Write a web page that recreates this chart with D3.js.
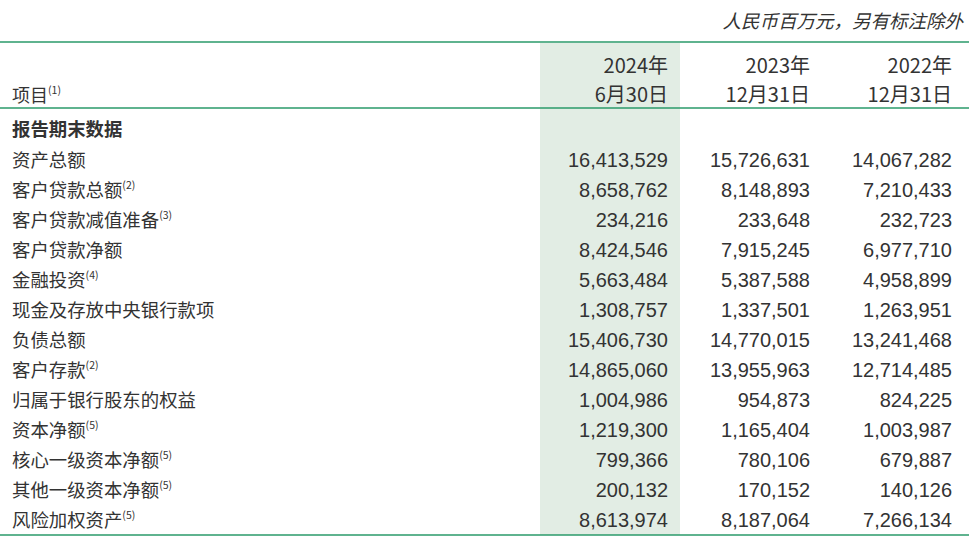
<!DOCTYPE html>
<html><head><meta charset="utf-8">
<script src="https://cdn.jsdelivr.net/npm/d3@7"></script>
<style>body{margin:0;background:#fff}</style></head>
<body><svg id="c" width="969" height="539"></svg>
<script>
const items = ["资产总额","客户贷款总额","客户贷款减值准备","客户贷款净额","金融投资","现金及存放中央银行款项","负债总额","客户存款","归属于银行股东的权益","资本净额","核心一级资本净额","其他一级资本净额","风险加权资产"];
const notes = ["","(2)","(3)","","(4)","","","(2)","","(5)","(5)","(5)","(5)"];
const colYears = ["2024年","2023年","2022年"];
const colDates = ["6月30日","12月31日","12月31日"];
const v2024 = [16413529,8658762,234216,8424546,5663484,1308757,15406730,14865060,1004986,1219300,799366,200132,8613974];
const v2023 = [15726631,8148893,233648,7915245,5387588,1337501,14770015,13955963,954873,1165404,780106,170152,8187064];
const v2022 = [14067282,7210433,232723,6977710,4958899,1263951,13241468,12714485,824225,1003987,679887,140126,7266134];

const svg = d3.select("#c");
const font = "'Noto Sans CJK SC','Liberation Sans',sans-serif";
const color = "#333";
const green = "#2a9a6a";
const series = [v2024, v2023, v2022];
const colRight = d3.scaleOrdinal().domain([0,1,2]).range([668,810,952]);
const y = d3.scaleBand().domain(d3.range(items.length + 1)).range([115, 535]).paddingInner(0);
const fmt = d3.format(",");

svg.append("rect").attr("x",540).attr("y",43).attr("width",140).attr("height",492).attr("fill","#e2ede4");
svg.append("text").attr("x",963).attr("y",28).attr("text-anchor","end").attr("font-style","italic")
  .attr("font-family",font).attr("font-size",18.5).attr("fill",color).text("人民币百万元，另有标注除外");
[42,108].forEach(yy=>svg.append("line").attr("x1",0).attr("x2",969).attr("y1",yy).attr("y2",yy).attr("stroke",green).attr("stroke-width",1.5));
svg.append("line").attr("x1",0).attr("x2",969).attr("y1",535).attr("y2",535).attr("stroke",green).attr("stroke-width",1.5);

const g = svg.append("g").attr("font-family",font).attr("fill",color);
const t1 = g.append("text").attr("x",12).attr("y",102).attr("font-size",18);
t1.append("tspan").text("项目");
t1.append("tspan").attr("font-size",10.5).attr("dy",-8).text("(1)");
colYears.forEach((s,i)=>{
  g.append("text").attr("x",colRight(i)).attr("y",73).attr("text-anchor","end").attr("font-size",20).text(s);
  g.append("text").attr("x",colRight(i)).attr("y",102).attr("text-anchor","end").attr("font-size",20).text(colDates[i]);
});
g.append("text").attr("x",12).attr("y",y(0)+y.bandwidth()/2+6).attr("font-size",18.4).attr("font-weight","bold").text("报告期末数据");
items.forEach((it,i)=>{
  const yy = y(i+1)+y.bandwidth()/2+6.5;
  const t = g.append("text").attr("x",12).attr("y",yy).attr("font-size",18.4);
  t.append("tspan").text(it);
  if(notes[i]) t.append("tspan").attr("font-size",10.5).attr("dy",-8).text(notes[i]);
  series.forEach((s,j)=>{
    g.append("text").attr("x",colRight(j)).attr("y",yy).attr("text-anchor","end").attr("font-size",20)
      .attr("font-family","'Liberation Sans',sans-serif").text(fmt(s[i]));
  });
});
</script></body></html>
